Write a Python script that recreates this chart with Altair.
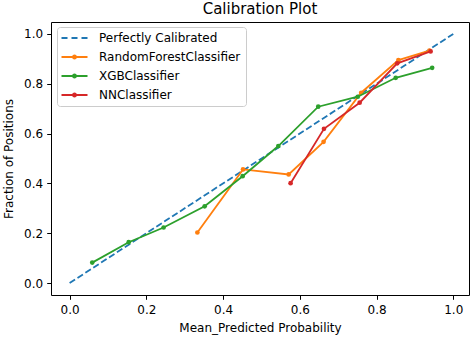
import altair as alt
import pandas as pd

# Reliability curves for three classifiers
series_names = ["Perfectly Calibrated", "RandomForestClassifier", "XGBClassifier", "NNClassifier"]
series_colors = ["#1f77b4", "#ff7f0e", "#2ca02c", "#d62728"]

perfect_x = [0.0, 1.0]
perfect_y = [0.0, 1.0]

rf_x = [0.333, 0.452, 0.571, 0.662, 0.760, 0.857, 0.938]
rf_y = [0.203, 0.456, 0.436, 0.567, 0.764, 0.895, 0.933]

xgb_x = [0.059, 0.154, 0.245, 0.352, 0.451, 0.544, 0.648, 0.751, 0.850, 0.945]
xgb_y = [0.082, 0.164, 0.223, 0.308, 0.429, 0.550, 0.708, 0.748, 0.824, 0.864]

nn_x = [0.576, 0.663, 0.756, 0.854, 0.941]
nn_y = [0.401, 0.619, 0.724, 0.882, 0.930]

axis_ticks = [0.0, 0.2, 0.4, 0.6, 0.8, 1.0]


def frame(name, xs, ys):
    return pd.DataFrame({"series": name, "x": xs, "y": ys})


perfect_df = frame(series_names[0], perfect_x, perfect_y)
rf_df = frame(series_names[1], rf_x, rf_y)
xgb_df = frame(series_names[2], xgb_x, xgb_y)
nn_df = frame(series_names[3], nn_x, nn_y)
all_df = pd.concat([perfect_df, rf_df, xgb_df, nn_df], ignore_index=True)

x_enc = alt.X(
    "x:Q",
    scale=alt.Scale(domain=[-0.0485, 1.041], nice=False, zero=False),
    axis=alt.Axis(values=axis_ticks, format=".1f", title="Mean_Predicted Probability"),
)
y_enc = alt.Y(
    "y:Q",
    scale=alt.Scale(domain=[-0.048, 1.048], nice=False, zero=False),
    axis=alt.Axis(values=axis_ticks, format=".1f", title="Fraction of Positions"),
)

# Legend glyphs (shifted right of the symbol anchor): a short line with a dot,
# or three dashes for the diagonal
line_dot = (
    "M-1.3,-0.18L3.9,-0.18L3.9,0.18L-1.3,0.18Z "
    "M0.8,0A0.5,0.5 0 1,1 1.8,0A0.5,0.5 0 1,1 0.8,0Z"
)
dashes = (
    "M-1.3,-0.18L-0.1,-0.18L-0.1,0.18L-1.3,0.18Z "
    "M0.7,-0.18L1.9,-0.18L1.9,0.18L0.7,0.18Z "
    "M2.7,-0.18L3.9,-0.18L3.9,0.18L2.7,0.18Z"
)

legend_opts = dict(
    title=None,
    orient="none",
    legendX=6,
    legendY=5,
    symbolOpacity=1,
    symbolStrokeWidth=0,
    symbolSize=100,
)

legend_layer = (
    alt.Chart(all_df)
    .mark_point(filled=True, opacity=0)
    .encode(
        x=x_enc,
        y=y_enc,
        color=alt.Color(
            "series:N",
            scale=alt.Scale(domain=series_names, range=series_colors),
            legend=alt.Legend(**legend_opts),
        ),
        shape=alt.Shape(
            "series:N",
            scale=alt.Scale(domain=series_names, range=[dashes, line_dot, line_dot, line_dot]),
            legend=alt.Legend(**legend_opts),
        ),
    )
)

perfect_line = (
    alt.Chart(perfect_df)
    .mark_line(color=series_colors[0], strokeWidth=1.8, strokeDash=[6.5, 2.9])
    .encode(x=x_enc, y=y_enc)
)

layers = [perfect_line]
for df, col in [(rf_df, series_colors[1]), (xgb_df, series_colors[2]), (nn_df, series_colors[3])]:
    base = alt.Chart(df).encode(x=x_enc, y=y_enc)
    layers.append(base.mark_line(color=col, strokeWidth=1.8))
    layers.append(base.mark_circle(color=col, size=22, opacity=1))

chart = (
    alt.layer(*layers, legend_layer)
    .properties(
        width=418,
        height=273,
        title=alt.TitleParams("Calibration Plot", fontSize=15, font="DejaVu Sans",
                              fontWeight="normal", color="#000000", offset=5),
        autosize=alt.AutoSizeParams(type="none"),
        padding={"left": 51, "top": 22, "right": 5, "bottom": 44},
    )
    .configure_view(stroke="#000000", strokeWidth=1)
    .configure_axis(
        grid=False,
        domain=False,
        tickColor="#000000",
        tickSize=4.3,
        tickWidth=1,
        labelPadding=4,
        labelFont="DejaVu Sans",
        labelFontSize=12,
        labelColor="#000000",
        titleFont="DejaVu Sans",
        titleFontSize=12,
        titleFontWeight="normal",
        titleColor="#000000",
    )
    .configure_axisX(titlePadding=7, labelPadding=5)
    .configure_axisY(titlePadding=8)
    .configure_legend(
        labelFont="DejaVu Sans",
        labelFontSize=12,
        labelColor="#000000",
        fillColor="#ffffff",
        strokeColor="#cccccc",
        cornerRadius=3,
        padding=5,
        labelOffset=25,
        rowPadding=7,
    )
)

chart.save("out.html", embed_options={"renderer": "svg", "actions": False})
